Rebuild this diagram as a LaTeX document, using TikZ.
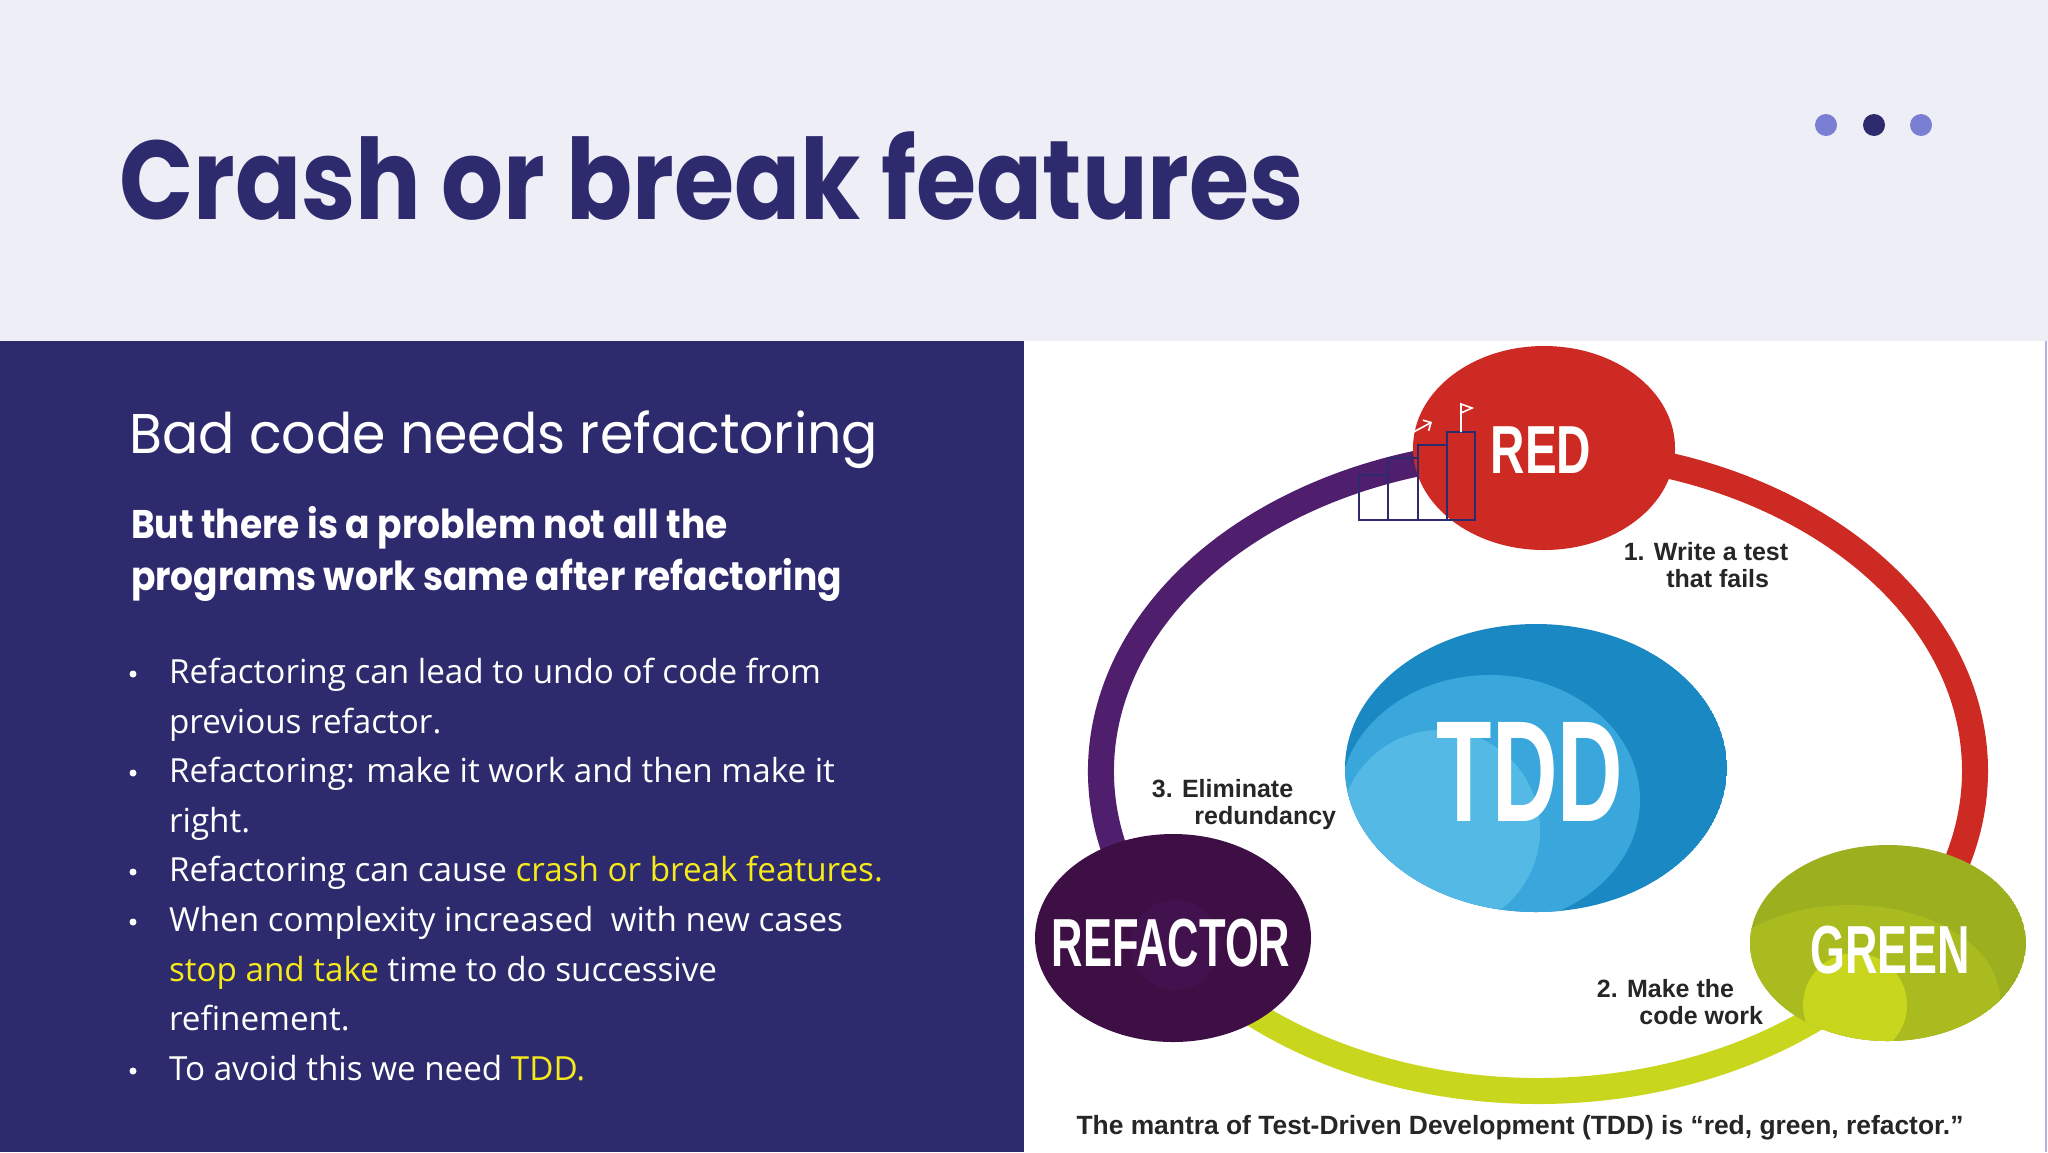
\documentclass[tikz,border=0pt]{standalone}
\usepackage{fontspec}
\usetikzlibrary{arrows.meta}
\setmainfont{Open Sans}
\newfontfamily\pop{Poppins}
\newfontfamily\lib{Liberation Sans}
\definecolor{navy}{HTML}{2E2A6E}
\definecolor{band}{HTML}{EEEEF6}
\definecolor{dotl}{HTML}{7B7FD4}
\definecolor{hl}{HTML}{F7EA1A}
\definecolor{redc}{HTML}{CC2A22}
\definecolor{purp}{HTML}{4F1F6E}
\definecolor{lime}{HTML}{C8D61E}
\definecolor{refc}{HTML}{3D0F45}
\definecolor{greenc}{HTML}{9CAF1F}
\definecolor{tdd1}{HTML}{1A88C2}
\definecolor{tdd2}{HTML}{3AA7DC}
\definecolor{tdd3}{HTML}{55B9E6}
\tikzset{
  ringseg/.style={line width=13pt},
  bigword/.style={text=white,font=\lib\bfseries},
  smalllbl/.style={font=\lib\bfseries\fontsize{12.5}{13.5}\selectfont,align=left,text=black!85},
  bul/.style={anchor=base west,text=white,font=\fontsize{16.6}{20}\selectfont},
  bar/.style={draw=navy,line width=1pt}
}
\begin{document}
\begin{tikzpicture}[x=0.5pt,y=-0.5pt]
\useasboundingbox (0,0) rectangle (2048,1152);
\fill[band] (0,0) rectangle (2048,341);
\fill[navy] (0,341) rectangle (1024,1152);
\fill[white] (1024,341) rectangle (2048,1152);
\draw[dotl!60,line width=1pt] (2046,341) -- (2046,1152);
% title
\node[anchor=base west,text=navy,font=\pop\bfseries\fontsize{56}{60}\selectfont] (title) at (112,219) {\scalebox{0.87}[1]{Crash or break features}};
\fill[dotl] (1826,125) circle (11) node (d1) {};
\fill[navy] (1874,125) circle (11) node (d2) {};
\fill[dotl] (1921,125) circle (11) node (d3) {};
% left
\node[anchor=base west,text=white,font=\pop\fontsize{28}{32}\selectfont] (h1) at (122,453) {\scalebox{0.96}[1]{Bad code needs refactoring}};
\node[anchor=base west,text=white,font=\pop\bfseries\fontsize{20}{26}\selectfont] (h2a) at (124,538) {\scalebox{0.9}[1]{But there is a problem not all the}};
\node[anchor=base west,text=white,font=\pop\bfseries\fontsize{20}{26}\selectfont] (h2b) at (124,590) {\scalebox{0.9}[1]{programs work same after refactoring}};
\foreach \y in {683,782,881,931,1080}{\fill[white] (133,\y-9) circle (3.5);}
\node[bul] (b1) at (162,683) {Refactoring can lead to undo of code from};
\node[bul] (b1b) at (162,733) {previous refactor.};
\node[bul] (b2) at (162,782) {Refactoring: make it work and then make it};
\node[bul] (b2b) at (162,832) {right.};
\node[bul] (b3) at (162,881) {Refactoring can cause \textcolor{hl}{crash or break features.}};
\node[bul] (b4) at (162,931) {When complexity increased\ \ with new cases};
\node[bul] (b4b) at (162,981) {\textcolor{hl}{stop and take} time to do successive};
\node[bul] (b4c) at (162,1030) {refinement.};
\node[bul] (b5) at (162,1080) {To avoid this we need \textcolor{hl}{TDD.}};
% ring
\coordinate (rc) at (1538,771);
\draw[ringseg,redc] (rc) ++(-90:437 and 320) arc[start angle=-90,end angle=34,x radius=437,y radius=320];
\draw[ringseg,lime] (rc) ++(34:437 and 320) arc[start angle=34,end angle=148,x radius=437,y radius=320];
\draw[ringseg,purp] (rc) ++(148:437 and 320) arc[start angle=148,end angle=270,x radius=437,y radius=320];
% RED
\fill[redc] (1544,448) ellipse [x radius=131,y radius=102];
\node[bigword,font=\lib\bfseries\fontsize{34}{34}\selectfont] (red) at (1541,450) {\scalebox{0.7}[1]{RED}};
% bar icon
\draw[bar] (1359,475) rectangle (1388,520);
\draw[bar] (1388,458) rectangle (1418,520);
\draw[bar] (1418,445) rectangle (1447,520);
\draw[bar] (1447,432) rectangle (1475,520);
\draw[white,line width=0.8pt] (1461,432) -- (1461,404) -- (1472,408) -- (1461,413);
\draw[white,line width=0.8pt,-{Straight Barb[length=3pt]}] (1362,460) -- (1432,422);
% TDD
\begin{scope}
\clip (1536,768) ellipse [x radius=191,y radius=144];
\fill[tdd1] (1536,768) ellipse [x radius=191,y radius=144];
\fill[tdd2] (1490,800) ellipse [x radius=150,y radius=125];
\fill[tdd3] (1440,830) ellipse [x radius=100,y radius=100];
\end{scope}
\node[bigword,font=\lib\bfseries\fontsize{72}{72}\selectfont] (tdd) at (1530,772) {\scalebox{0.63}[1]{TDD}};
% REFACTOR
\fill[refc] (1173,938) ellipse [x radius=138,y radius=104];
\fill[refc!80!purp] (1175,945) circle (45);
\node[bigword,font=\lib\bfseries\fontsize{34}{34}\selectfont] (refactor) at (1171,943) {\scalebox{0.64}[1]{REFACTOR}};
% GREEN
\begin{scope}
\clip (1888,943) ellipse [x radius=138,y radius=98];
\fill[greenc] (1888,943) ellipse [x radius=138,y radius=98];
\fill[greenc!70!lime] (1850,1000) ellipse [x radius=150,y radius=95];
\fill[lime] (1855,1005) circle (52);
\end{scope}
\node[bigword,font=\lib\bfseries\fontsize{34}{34}\selectfont] (green) at (1890,950) {\scalebox{0.66}[1]{GREEN}};
% small labels
\node[smalllbl] (l1) at (1706,565) {1. Write a test\\\hspace*{1.7em}that fails};
\node[smalllbl] (l3) at (1244,805) {3. Eliminate\\\hspace*{1.7em}redundancy};
\node[smalllbl] (l2) at (1680,1002) {2. Make the\\\hspace*{1.7em}code work};
\node[font=\lib\bfseries\fontsize{13.2}{14}\selectfont,text=black!85] (cap) at (1520,1128) {The mantra of Test-Driven Development (TDD) is “red, green, refactor.”};
\end{tikzpicture}
\end{document}
